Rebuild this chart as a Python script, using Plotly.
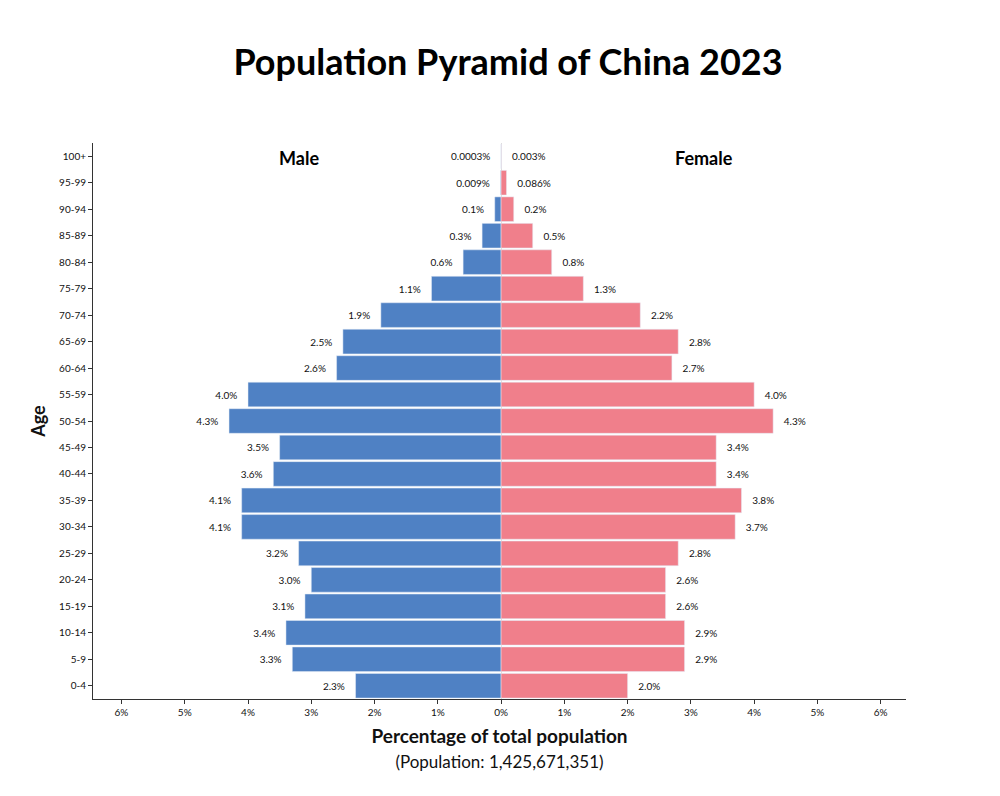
import plotly.graph_objects as go

ages = ["0-4","5-9","10-14","15-19","20-24","25-29","30-34","35-39","40-44","45-49",
        "50-54","55-59","60-64","65-69","70-74","75-79","80-84","85-89","90-94","95-99","100+"]
male = [2.3,3.3,3.4,3.1,3.0,3.2,4.1,4.1,3.6,3.5,4.3,4.0,2.6,2.5,1.9,1.1,0.6,0.3,0.1,0.009,0.0003]
male_lbl = ["2.3%","3.3%","3.4%","3.1%","3.0%","3.2%","4.1%","4.1%","3.6%","3.5%","4.3%","4.0%",
            "2.6%","2.5%","1.9%","1.1%","0.6%","0.3%","0.1%","0.009%","0.0003%"]
female = [2.0,2.9,2.9,2.6,2.6,2.8,3.7,3.8,3.4,3.4,4.3,4.0,2.7,2.8,2.2,1.3,0.8,0.5,0.2,0.086,0.003]
female_lbl = ["2.0%","2.9%","2.9%","2.6%","2.6%","2.8%","3.7%","3.8%","3.4%","3.4%","4.3%","4.0%",
              "2.7%","2.8%","2.2%","1.3%","0.8%","0.5%","0.2%","0.086%","0.003%"]
tick_vals = [-6,-5,-4,-3,-2,-1,0,1,2,3,4,5,6]
tick_text = ["6%","5%","4%","3%","2%","1%","0%","1%","2%","3%","4%","5%","6%"]

font = "Lato"
fig = go.Figure()
fig.add_bar(y=ages, x=[-v for v in male], orientation="h", marker_color="#4f81c4",
            text=[t + "   " for t in male_lbl], textposition="outside",
            textfont=dict(size=10, color="#111"), cliponaxis=False, name="Male")
fig.add_bar(y=ages, x=female, orientation="h", marker_color="#f07f8b",
            text=["   " + t for t in female_lbl], textposition="outside",
            textfont=dict(size=10, color="#111"), cliponaxis=False, name="Female")
fig.update_layout(
    width=1000, height=796, barmode="relative", bargap=0.07, showlegend=False,
    plot_bgcolor="white", paper_bgcolor="white",
    font=dict(family=font, color="#111"),
    margin=dict(l=85, r=102, t=135, b=105),
    title=dict(text="<b>Population Pyramid of China 2023</b>", x=0.5, xanchor="center",
               y=0.932, yanchor="middle", font=dict(size=36, color="#000")),
    xaxis=dict(range=[-6.45, 6.4], tickvals=tick_vals, ticktext=tick_text,
               showline=True, linecolor="#333", ticks="outside", ticklen=4, tickcolor="#333",
               showgrid=False, zeroline=True, zerolinecolor="#ddd", zerolinewidth=1,
               tickfont=dict(size=10),
               title=dict(text="<b>Percentage of total population</b><br><span style='font-size:17px;font-weight:normal'>(Population: 1,425,671,351)</span>",
                          font=dict(size=19), standoff=12)),
    yaxis=dict(showline=True, linecolor="#333", ticks="outside", ticklen=4, tickcolor="#333",
               tickfont=dict(size=10), title=dict(text="<b>Age</b>", font=dict(size=18), standoff=8)),
)
fig.add_annotation(text="<b>Male</b>", x=-3.2, y=0.997, xref="x", yref="paper", yanchor="top",
                   showarrow=False, font=dict(size=18, color="#000"))
fig.add_annotation(text="<b>Female</b>", x=3.2, y=0.997, xref="x", yref="paper", yanchor="top",
                   showarrow=False, font=dict(size=18, color="#000"))
fig.write_html("out.html")
